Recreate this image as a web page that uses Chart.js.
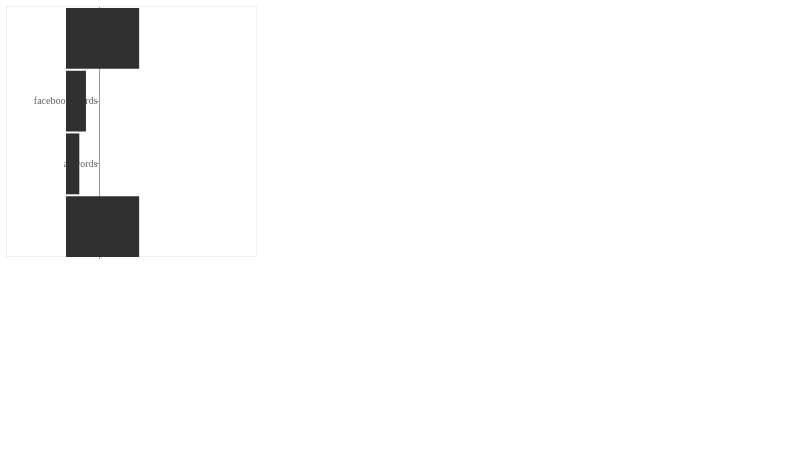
<!DOCTYPE html>
<html>
<head>
<meta charset="utf-8">
<script src="https://cdn.jsdelivr.net/npm/chart.js@4"></script>
<style>
  body { margin: 0; background: #fff; }
  #box { position: absolute; left: 6px; top: 6px; width: 251px; height: 251px; border: 1px solid #f0f0f0; box-sizing: border-box; }
  #wrap { position: absolute; left: 7px; top: 1px; width: 249px; height: 263px; }
</style>
</head>
<body>
<div id="box"></div>
<div id="wrap"><canvas id="chart"></canvas></div>
<script>
// channels and their values
const channels = ["seo", "facebook words", "adwords", "email"];
const visits = [11, 3, 2, 11];
const xMin = 0;
const xMax = 20;
const axisAt = 5.1;

new Chart(document.getElementById("chart"), {
  type: "bar",
  data: {
    labels: channels,
    datasets: [{
      data: visits,
      backgroundColor: "#303030",
      barPercentage: 0.97,
      categoryPercentage: 1
    }]
  },
  options: {
    indexAxis: "y",
    responsive: true,
    maintainAspectRatio: false,
    animation: false,
    layout: { padding: { left: 59, right: 57, top: 0, bottom: 0 } },
    plugins: { legend: { display: false }, tooltip: { enabled: false } },
    scales: {
      x: { display: false, min: xMin, max: xMax },
      y: {
        position: { x: axisAt },
        border: { display: true, color: "#999" },
        grid: { offset: false, drawOnChartArea: false, drawTicks: true, tickLength: 3, color: "#999" },
        ticks: {
          color: "#666",
          padding: 0,
          font: { family: "Liberation Serif", size: 10 },
          // leave a little room for the tick mark
          callback: function (value) { return this.getLabelForValue(value) + " "; }
        }
      }
    }
  }
});
</script>
</body>
</html>
